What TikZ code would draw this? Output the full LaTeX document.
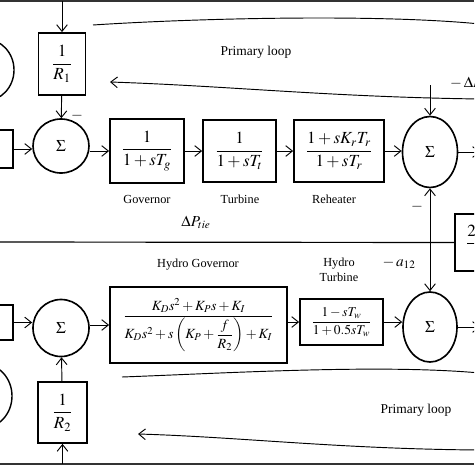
\documentclass[tikz,border=0pt]{standalone}
\usepackage{amsmath}
\usepackage{mathptmx}
\usepackage{fontspec}
\setmainfont{Liberation Serif}
\usetikzlibrary{shapes.geometric,arrows.meta}
\tikzset{
  blk/.style={draw, line width=1.5pt, inner sep=1pt, font=\fontsize{14.5}{17}\selectfont},
  sumnode/.style={draw, ellipse, line width=1.4pt, inner sep=0pt, font=\fontsize{14}{16}\selectfont},
  lbl/.style={font=\fontsize{10.5}{12}\selectfont, inner sep=0pt},
  mlbl/.style={font=\fontsize{13}{15}\selectfont, inner sep=0pt},
  conn/.style={-{Straight Barb[length=2mm,width=3.2mm]}, line width=0.8pt},
  loopline/.style={line width=0.8pt},
  busline/.style={line width=1.6pt, draw=black!80}
}

\begin{document}
\begin{tikzpicture}[x=0.03cm, y=-0.03cm]
    \useasboundingbox (0,0) rectangle (474,474);
    \clip (0,0) rectangle (474,474);
    % bus lines
    \coordinate (topl) at (0,1);
    \coordinate (topr) at (474,1);
    \coordinate (botl) at (0,464);
    \coordinate (botr) at (474,464);
    \draw[busline] (topl) -- (topr);
    \draw[busline] (botl) -- (botr);
    % area 1: left fragments
    \node[draw, ellipse, line width=1.2pt, minimum width=1.74cm, minimum height=1.86cm] (loop1) at (-15,70) {};
    \node[blk, minimum width=1.59cm, minimum height=1.14cm] (in1) at (-13.5,149) {};
    % droop 1
    \node[blk, minimum width=1.41cm, minimum height=1.86cm] (droop1) at (62,64) {$\dfrac{1}{R_1}$};
    \coordinate (fb1) at (62,1);
    % summing point 1
    \node[sumnode, minimum width=1.68cm, minimum height=1.62cm] (sum1) at (61,146) {$\Sigma$};
    \node[mlbl] (minus1) at (77,116) {$-$};
    % governor
    \node[blk, minimum width=2.22cm, minimum height=1.92cm] (gov) at (147,151) {$\dfrac{1}{1+sT_g}$};
    \node[lbl] (govlbl) at (147,199) {Governor};
    % turbine
    \node[blk, minimum width=2.19cm, minimum height=1.86cm] (turb) at (239.5,151) {$\dfrac{1}{1+sT_t}$};
    \node[lbl] (turblbl) at (240,199) {Turbine};
    % reheater
    \node[blk, minimum width=2.7cm, minimum height=1.86cm] (reh) at (339,151) {$\dfrac{1+sK_rT_r}{1+sT_r}$};
    \node[lbl] (rehlbl) at (334,199) {Reheater};
    % summing point 2
    \node[sumnode, minimum width=1.65cm, minimum height=2.13cm] (sum2) at (430,152) {$\Sigma$};
    \node[mlbl, anchor=west] (dpl) at (450,84) {$-\,\Delta P_{tie}$};
    \coordinate (dpin) at (430,85);
    \coordinate (out1) at (480,152);
    \draw[conn] (fb1) -- (droop1);
    \draw[conn] (droop1) -- (sum1);
    \draw[conn] (in1.east) -- (in1.east -| sum1.west);
    \draw[conn] (sum1.east |- gov.west) -- (gov.west);
    \draw[conn] (gov) -- (turb);
    \draw[conn] (turb) -- (reh);
    \draw[conn] (reh.east) -- (reh.east -| sum2.west);
    \draw[conn] (sum2.east |- out1) -- (out1);
    \draw[conn] (dpin) -- (sum2.north);
    % primary loop 1
    \draw[loopline] (93,25) .. controls (200,18) and (380,14) .. (480,24);
    \draw[conn] (480,99) .. controls (330,97) and (230,86) .. (110,82);
    \node[lbl, font=\fontsize{11.5}{13}\selectfont] (pl1) at (256,52) {Primary loop};
    % tie line
    \node[mlbl] (dptie) at (196,222) {$\Delta P_{tie}$};
    \node[blk, anchor=west, inner xsep=0.33cm, minimum height=1.71cm] (tie) at (454,242.5) {$\dfrac{2\pi T_{12}}{s}$};
    \coordinate (midl) at (0,242);
    \coordinate (jn) at (430,242);
    \draw[line width=1pt] (tie.west) -- (midl);
    \node[mlbl] (minus2) at (417,207) {$-$};
    \node[mlbl] (a12) at (399,263) {$-\,a_{12}$};
    % area 2: left fragments
    \node[draw, ellipse, line width=1.2pt, minimum width=1.74cm, minimum height=1.92cm] (loop2) at (-17,396) {};
    \node[blk, minimum width=1.59cm, minimum height=1.05cm] (in2) at (-13.5,322.5) {};
    % summing point 3
    \node[sumnode, minimum width=1.68cm, minimum height=1.71cm] (sum3) at (61,328) {$\Sigma$};
    % hydro governor
    \node[blk, font=\fontsize{12}{14}\selectfont, minimum width=5.31cm, minimum height=2.28cm] (hgov) at (198.5,325) {$\dfrac{K_Ds^2+K_Ps+K_I}{K_Ds^2+s\left(K_P+\dfrac{f}{R_2}\right)+K_I}$};
    \node[lbl] (hgovlbl) at (198,265) {Hydro Governor};
    % hydro turbine
    \node[blk, font=\fontsize{11.5}{13}\selectfont, minimum width=2.49cm, minimum height=1.38cm] (hturb) at (341.5,322) {$\dfrac{1-sT_w}{1+0.5sT_w}$};
    \node[lbl, align=center] (hturblbl) at (339,270) {Hydro\\[1pt]Turbine};
    % summing point 4
    \node[sumnode, minimum width=1.62cm, minimum height=2.1cm] (sum4) at (430,327) {$\Sigma$};
    \coordinate (out2) at (480,327);
    % droop 2
    \node[blk, minimum width=1.47cm, minimum height=1.83cm] (droop2) at (62.5,412.5) {$\dfrac{1}{R_2}$};
    \coordinate (fb2) at (62.5,464);
    \draw[conn] (jn) -- (sum2.south);
    \draw[conn] (jn) -- (sum4.north);
    \draw[conn] (in2.east) -- (in2.east -| sum3.west);
    \draw[conn] (sum3.east |- hgov.west) -- (hgov.west);
    \draw[conn] (hgov.east |- hturb.west) -- (hturb.west);
    \draw[conn] (hturb.east) -- (hturb.east -| sum4.west);
    \draw[conn] (sum4.east |- out2) -- (out2);
    \draw[conn] (fb2) -- (droop2);
    \draw[conn] (droop2) -- (sum3);
    % primary loop 2
    \draw[loopline] (122,377) .. controls (230,373) and (380,364) .. (480,373);
    \draw[conn] (480,450) .. controls (340,449) and (240,437) .. (138,434);
    \node[lbl, font=\fontsize{11.5}{13}\selectfont] (pl2) at (416,410) {Primary loop};
\end{tikzpicture}
\end{document}
